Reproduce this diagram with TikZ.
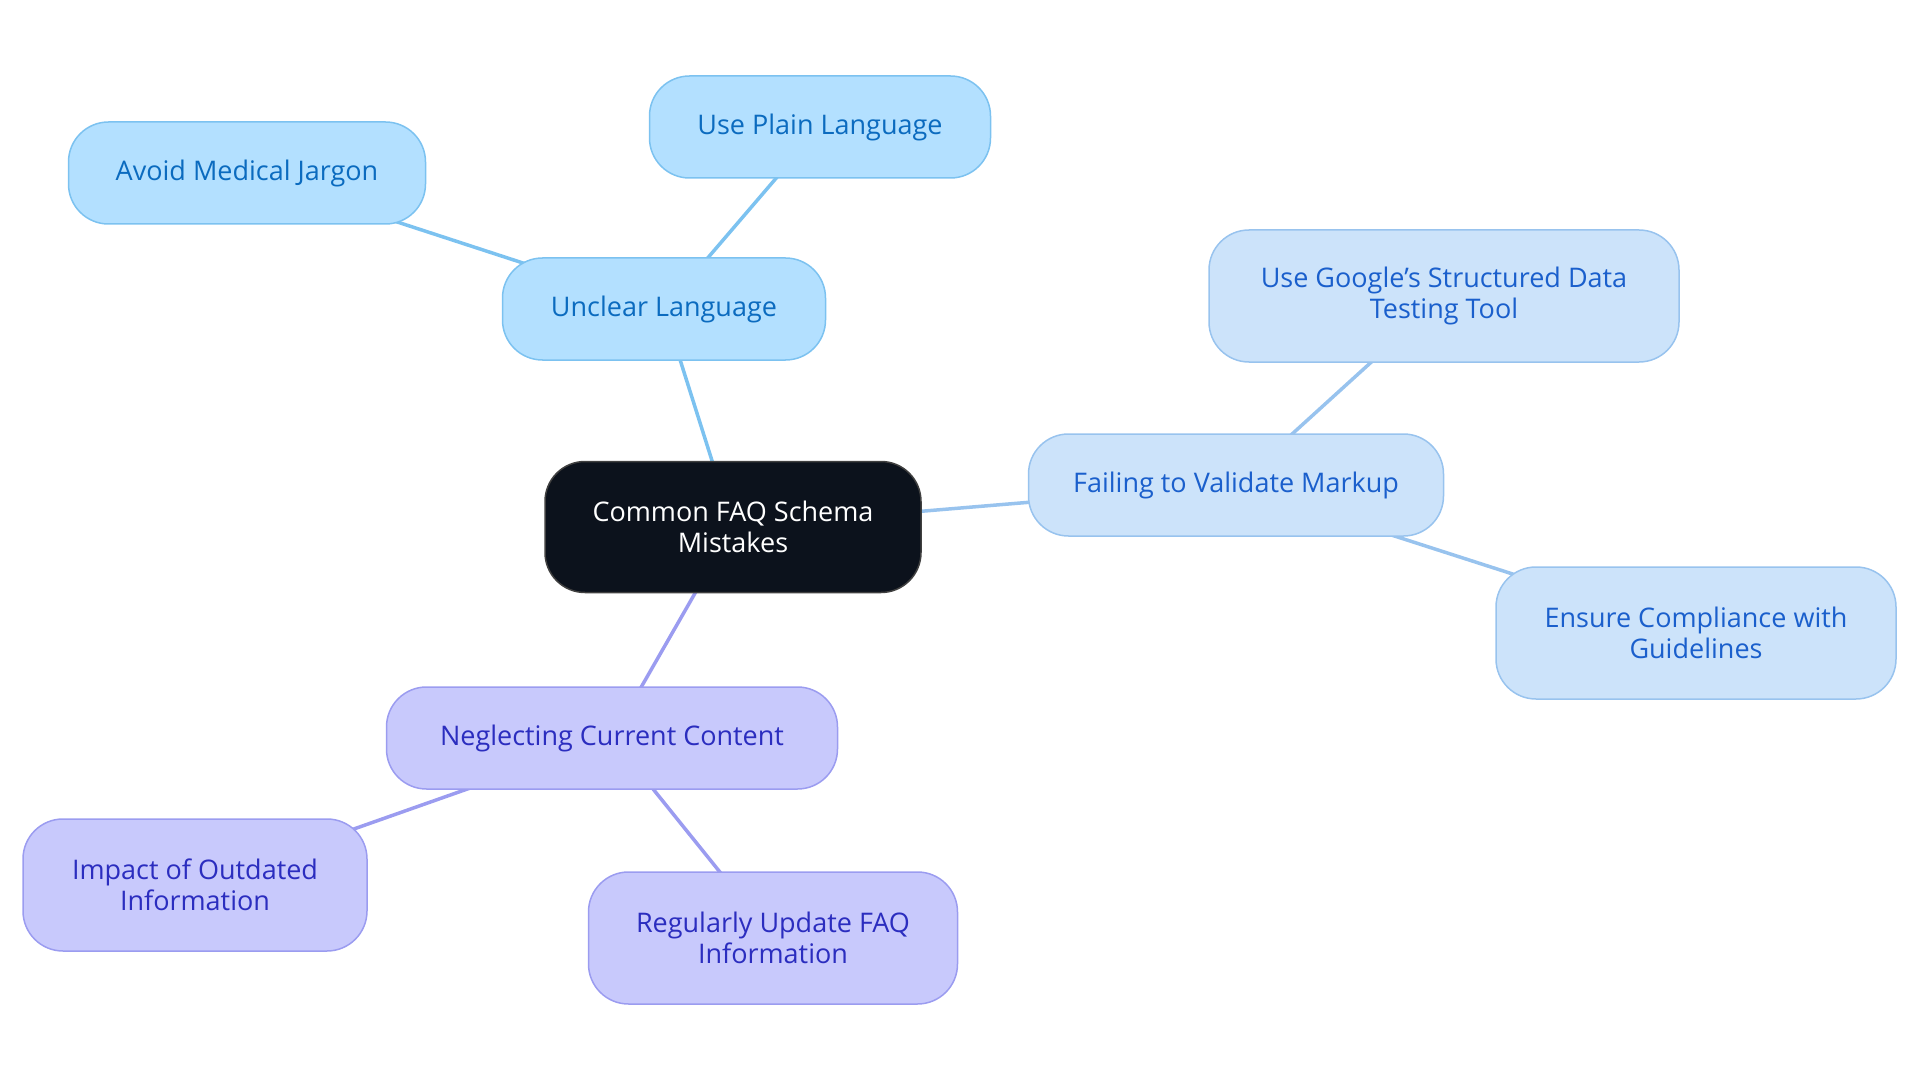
\documentclass[tikz,border=0pt]{standalone}
\usepackage{fontspec}
\setmainfont{Open Sans}
\usetikzlibrary{backgrounds}

\definecolor{skyfill}{HTML}{B3E0FF}
\definecolor{skyline}{HTML}{7CC2F0}
\definecolor{skytext}{HTML}{0B6BBF}
\definecolor{palefill}{HTML}{CCE3FA}
\definecolor{paleline}{HTML}{98C3EE}
\definecolor{paletext}{HTML}{1A5FCC}
\definecolor{lavfill}{HTML}{C8C9FC}
\definecolor{lavline}{HTML}{9B9CF0}
\definecolor{lavtext}{HTML}{2B2DBF}
\definecolor{rootfill}{HTML}{0C121C}

\tikzset{
  topic/.style={rounded corners=40pt, line width=1.5pt, align=center,
    inner sep=0pt, font=\fontsize{27}{30.5}\selectfont},
  root/.style={topic, fill=rootfill, draw=black!75, text=white},
  sky/.style={topic, fill=skyfill, draw=skyline, text=skytext},
  pale/.style={topic, fill=palefill, draw=paleline, text=paletext},
  lav/.style={topic, fill=lavfill, draw=lavline, text=lavtext},
  link/.style={line width=3.5pt}
}

\begin{document}
\begin{tikzpicture}[x=1pt,y=-1pt]
    \useasboundingbox (0,0) rectangle (1920,1083);

    % Centre
    \node[root, minimum width=376pt, minimum height=131pt] (faq) at (733,527) {Common FAQ Schema\\Mistakes};

    % Branches
    \node[sky, minimum width=323pt, minimum height=102pt] (unclear) at (664,309) {Unclear Language};
    \node[pale, minimum width=415pt, minimum height=102pt] (validate) at (1236,485) {Failing to Validate Markup};
    \node[lav, minimum width=451pt, minimum height=102pt] (neglect) at (612,738) {Neglecting Current Content};

    % Leaves
    \node[sky, minimum width=341pt, minimum height=102pt] (plain) at (820,127) {Use Plain Language};
    \node[sky, minimum width=357pt, minimum height=102pt] (jargon) at (247,173) {Avoid Medical Jargon};
    \node[pale, minimum width=470pt, minimum height=132pt] (google) at (1444,296) {Use Google's Structured Data\\Testing Tool};
    \node[pale, minimum width=400pt, minimum height=132pt] (comply) at (1696,633) {Ensure Compliance with\\Guidelines};
    \node[lav, minimum width=344pt, minimum height=132pt] (outdated) at (195,885) {Impact of Outdated\\Information};
    \node[lav, minimum width=369pt, minimum height=132pt] (update) at (773,938) {Regularly Update FAQ\\Information};

    % Connectors run centre to centre, behind the boxes
    \begin{scope}[on background layer]
    \draw[link, skyline] (faq.center) -- (unclear.center);
    \draw[link, skyline] (unclear.center) -- (plain.center);
    \draw[link, skyline] (unclear.center) -- (jargon.center);
    \draw[link, paleline] (faq.center) -- (validate.center);
    \draw[link, paleline] (validate.center) -- (google.center);
    \draw[link, paleline] (validate.center) -- (comply.center);
    \draw[link, lavline] (faq.center) -- (neglect.center);
    \draw[link, lavline] (neglect.center) -- (outdated.center);
    \draw[link, lavline] (neglect.center) -- (update.center);
    \end{scope}
\end{tikzpicture}
\end{document}
